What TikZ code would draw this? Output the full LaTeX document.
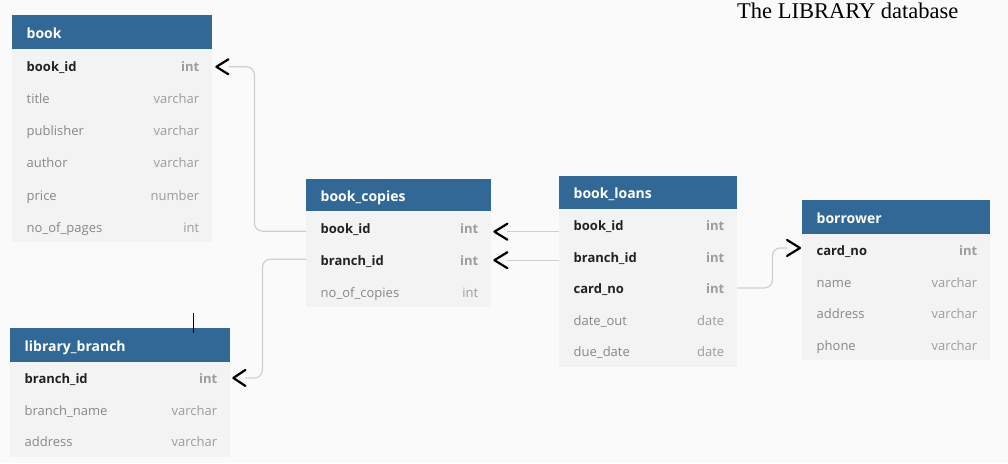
\documentclass[tikz,border=0pt]{standalone}
\usepackage{fontspec}
\newfontfamily\dbfont{Open Sans}
\newfontfamily\titlefont{Liberation Serif}
\definecolor{bgc}{HTML}{FAFAFA}
\definecolor{bodyc}{HTML}{F3F3F3}
\definecolor{hdrc}{HTML}{316896}
\definecolor{keyc}{HTML}{222222}
\definecolor{fldc}{HTML}{888888}
\definecolor{typc}{HTML}{9C9C9C}
\definecolor{connc}{HTML}{CFCFCF}
\tikzset{
  tblbody/.style={fill=bodyc, draw=none, inner sep=0, anchor=north west},
  tblhdr/.style={fill=hdrc, draw=none, inner sep=0, anchor=north west},
  hdrtext/.style={text=white, font=\dbfont\bfseries\fontsize{14}{16}\selectfont, anchor=west, inner sep=0, text height=10pt, text depth=3pt, yshift=-2.5pt},
  rowbox/.style={inner sep=0, anchor=north west},
  namek/.style={text=keyc, font=\dbfont\bfseries\fontsize{13}{15}\selectfont, anchor=west, inner sep=0, text height=9pt, text depth=3pt, yshift=-3pt},
  namen/.style={text=fldc, font=\dbfont\fontsize{13}{15}\selectfont, anchor=west, inner sep=0, text height=9pt, text depth=3pt, yshift=-3pt},
  typek/.style={text=typc, font=\dbfont\bfseries\fontsize{13}{15}\selectfont, inner sep=0, text height=9pt, text depth=3pt, yshift=-3pt},
  typen/.style={text=typc, font=\dbfont\fontsize{13}{15}\selectfont, inner sep=0, text height=9pt, text depth=3pt, yshift=-3pt},
  conn/.style={draw=connc, line width=1.2pt, rounded corners=8pt},
  crow/.style={draw=black, line width=2.2pt, line cap=round, line join=round},
  titletext/.style={font=\titlefont\fontsize{22.5}{25}\selectfont, text=black, inner sep=0}
}
\newcommand\dbtable[9]{%
  \node[tblbody, minimum width={(#3-#2)*1pt}, minimum height={#7*#6*1pt}] (#1) at (#2,#5) {};
  \node[tblhdr, minimum width={(#3-#2)*1pt}, minimum height={(#5-#4)*1pt}] (#1-h) at (#2,#4) {};
  \node[hdrtext] (#1-t) at ([xshift=14.5pt]#1-h.west) {#8};
  \foreach \fn/\ft/\fk [count=\i] in {#9} {
    \node[rowbox, minimum width={(#3-#2)*1pt}, minimum height={#6*1pt}] (#1-\i) at (#2, {#5+(\i-1)*#6}) {};
    \node[name\fk] (#1-\i-n) at ([xshift=14.5pt]#1-\i.west) {\fn};
    \node[type\fk, anchor=east] (#1-\i-y) at ([xshift=-13pt]#1-\i.east) {\ft};
  }%
}
\begin{document}
\begin{tikzpicture}[x=1pt,y=-1pt]
\useasboundingbox (0,0) rectangle (1008,463);
\fill[bgc] (0,0) rectangle (1008,463);

\dbtable{book}{12}{212}{15}{49}{32.2}{6}{book}{book\_id/int/k, title/varchar/n, publisher/varchar/n, author/varchar/n, price/number/n, no\_of\_pages/int/n}
\dbtable{bc}{306}{491}{179}{211}{32}{3}{book\_copies}{book\_id/int/k, branch\_id/int/k, no\_of\_copies/int/n}
\dbtable{bl}{559}{737}{176}{209}{31.5}{5}{book\_loans}{book\_id/int/k, branch\_id/int/k, card\_no/int/k, date\_out/date/n, due\_date/date/n}
\dbtable{br}{802}{990}{200}{234}{31.5}{4}{borrower}{card\_no/int/k, name/varchar/n, address/varchar/n, phone/varchar/n}
\dbtable{lb}{10}{230}{328}{362}{31.5}{3}{library\_branch}{branch\_id/int/k, branch\_name/varchar/n, address/varchar/n}

\node[titletext, anchor=base west] (title) at (737,18) {The LIBRARY database};

% connector end points (open ends of the crow symbols)
\coordinate (a1) at ([xshift=16pt,yshift=-1.5pt]book-1.east);
\coordinate (a2) at ([xshift=16pt,yshift=-4.5pt]bc-1.east);
\coordinate (a3) at ([xshift=16pt,yshift=-1pt]bc-2.east);
\coordinate (a4) at ([xshift=15pt]lb-1.east);
\coordinate (a5) at ([xshift=-15pt,yshift=2pt]br-1.west);

% connectors
\draw[conn] (a1) -- ++(26,0) |- ([yshift=-4pt]bc-1.west);
\draw[conn] (a2) -- (a2 -| bl-1.west);
\draw[conn] (a3) -- (a3 -| bl-2.west);
\draw[conn] (a4) -- ++(17,0) |- (bc-2.west);
\draw[conn] (bl-3.east) -- ++(35,0) |- (a5);

% many-side symbols
\draw[crow] ([yshift=7.5pt]a1) -- ([xshift=-12pt]a1) -- ([yshift=-7.5pt]a1);
\draw[crow] ([yshift=8pt]a2) -- ([xshift=-13pt]a2) -- ([yshift=-8pt]a2);
\draw[crow] ([yshift=8pt]a3) -- ([xshift=-13pt]a3) -- ([yshift=-8pt]a3);
\draw[crow] ([yshift=8pt]a4) -- ([xshift=-12pt]a4) -- ([yshift=-8pt]a4);
\draw[crow] ([yshift=8pt]a5) -- ([xshift=13pt]a5) -- ([yshift=-8pt]a5);

% small tick above library_branch
\coordinate (tk) at (193,313);
\draw[black, line width=0.8pt] (tk) -- ++(0,20);
\end{tikzpicture}
\end{document}
